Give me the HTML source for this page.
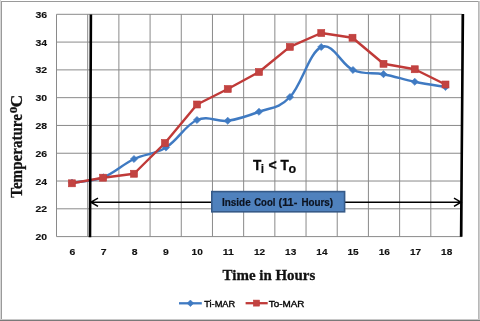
<!DOCTYPE html>
<html><head><meta charset="utf-8"><title>Chart</title>
<style>html,body{margin:0;padding:0;background:#fff;overflow:hidden}</style></head>
<body>
<svg width="480" height="321" viewBox="0 0 480 321" style="display:block">
<rect x="0" y="0" width="480" height="321" fill="#fff"/>
<rect x="0" y="0" width="1" height="321" fill="#d6d6d6"/>
<rect x="1" y="1" width="1" height="319" fill="#9a9a9a"/>
<rect x="1" y="1" width="478" height="1" fill="#9a9a9a"/>
<rect x="478" y="1" width="1" height="320" fill="#b8b8b8"/><rect x="479" y="1" width="1" height="320" fill="#cdcdcd"/>
<rect x="0" y="319" width="480" height="1" fill="#c8c8c8"/>
<rect x="0" y="320" width="480" height="1" fill="#7a7a7a"/>
<path d="M56.50 14.30 H462.00 M56.50 42.09 H462.00 M56.50 69.88 H462.00 M56.50 97.66 H462.00 M56.50 125.45 H462.00 M56.50 153.24 H462.00 M56.50 181.03 H462.00 M56.50 208.81 H462.00 M56.50 236.60 H462.00 M56.50 14.30 V236.60 M87.69 14.30 V236.60 M118.88 14.30 V236.60 M150.08 14.30 V236.60 M181.27 14.30 V236.60 M212.46 14.30 V236.60 M243.65 14.30 V236.60 M274.85 14.30 V236.60 M306.04 14.30 V236.60 M337.23 14.30 V236.60 M368.42 14.30 V236.60 M399.62 14.30 V236.60 M430.81 14.30 V236.60 M462.00 14.30 V236.60" stroke="#8a8a8a" stroke-width="1" fill="none"/>
<g font-family="'Liberation Sans', sans-serif" font-weight="bold" font-size="9.9px" fill="#111" stroke="#111" stroke-width="0.15">
<text x="35.5" y="17.90" textLength="11.6" lengthAdjust="spacingAndGlyphs">36</text>
<text x="35.5" y="45.69" textLength="11.6" lengthAdjust="spacingAndGlyphs">34</text>
<text x="35.5" y="73.47" textLength="11.6" lengthAdjust="spacingAndGlyphs">32</text>
<text x="35.5" y="101.26" textLength="11.6" lengthAdjust="spacingAndGlyphs">30</text>
<text x="35.5" y="129.05" textLength="11.6" lengthAdjust="spacingAndGlyphs">28</text>
<text x="35.5" y="156.84" textLength="11.6" lengthAdjust="spacingAndGlyphs">26</text>
<text x="35.5" y="184.62" textLength="11.6" lengthAdjust="spacingAndGlyphs">24</text>
<text x="35.5" y="212.41" textLength="11.6" lengthAdjust="spacingAndGlyphs">22</text>
<text x="35.5" y="240.20" textLength="11.6" lengthAdjust="spacingAndGlyphs">20</text>
<text x="69.50" y="254.7" textLength="5.8" lengthAdjust="spacingAndGlyphs">6</text>
<text x="100.69" y="254.7" textLength="5.8" lengthAdjust="spacingAndGlyphs">7</text>
<text x="131.88" y="254.7" textLength="5.8" lengthAdjust="spacingAndGlyphs">8</text>
<text x="163.07" y="254.7" textLength="5.8" lengthAdjust="spacingAndGlyphs">9</text>
<text x="191.57" y="254.7" textLength="11.2" lengthAdjust="spacingAndGlyphs">10</text>
<text x="222.76" y="254.7" textLength="11.2" lengthAdjust="spacingAndGlyphs">11</text>
<text x="253.95" y="254.7" textLength="11.2" lengthAdjust="spacingAndGlyphs">12</text>
<text x="285.14" y="254.7" textLength="11.2" lengthAdjust="spacingAndGlyphs">13</text>
<text x="316.33" y="254.7" textLength="11.2" lengthAdjust="spacingAndGlyphs">14</text>
<text x="347.53" y="254.7" textLength="11.2" lengthAdjust="spacingAndGlyphs">15</text>
<text x="378.72" y="254.7" textLength="11.2" lengthAdjust="spacingAndGlyphs">16</text>
<text x="409.91" y="254.7" textLength="11.2" lengthAdjust="spacingAndGlyphs">17</text>
<text x="441.10" y="254.7" textLength="11.2" lengthAdjust="spacingAndGlyphs">18</text>
</g>
<g transform="translate(22,197.8) rotate(-90)" font-family="'Liberation Serif', serif" font-weight="bold" fill="#111" stroke="#111" stroke-width="0.3"><text transform="scale(0.888,1)" font-size="17px">Temperature </text><text transform="translate(84.6,-4.6) scale(1.25,1)" font-size="10.4px">0</text><text transform="translate(90.4,0) scale(1.04,1)" font-size="17px">C</text></g>
<text x="222.6" y="280.2" font-family="'Liberation Serif', serif" font-weight="bold" font-size="15px" fill="#111" stroke="#111" stroke-width="0.3" textLength="92.7" lengthAdjust="spacingAndGlyphs">Time in Hours</text>
<path d="M90.5 202.2 H461 M98 198.2 L90.8 202.2 L98 206.4 M454 198.2 L461 202.2 L454 206.4" stroke="#000" stroke-width="1.5" fill="none"/>
<rect x="211.8" y="191.6" width="132.8" height="20.2" fill="#4f81bd" stroke="#365a88" stroke-width="1.6"/>
<g font-family="'Liberation Sans', sans-serif" font-weight="bold" font-size="10.3px" fill="#0c1320" stroke="#0c1320" stroke-width="0.2">
<text y="205.8"><tspan x="222.0" textLength="28.7" lengthAdjust="spacingAndGlyphs">Inside</tspan> <tspan x="254.2" textLength="21.2" lengthAdjust="spacingAndGlyphs">Cool</tspan> <tspan x="278.5" textLength="18.8" lengthAdjust="spacingAndGlyphs">(11-</tspan> <tspan x="301.4" textLength="31.6" lengthAdjust="spacingAndGlyphs">Hours)</tspan></text>
</g>
<g font-family="'Liberation Sans', sans-serif" font-weight="bold" fill="#0a0a0a" stroke="#0a0a0a" stroke-width="0.35">
<text y="169.5"><tspan x="252.9" font-size="14.6px" textLength="8.3" lengthAdjust="spacingAndGlyphs">T</tspan><tspan x="260.7" y="173.0" font-size="12px" stroke-width="0.15">i</tspan> <tspan x="268.4" y="170.3" font-size="14.6px" textLength="8.2" lengthAdjust="spacingAndGlyphs">&lt;</tspan> <tspan x="280.4" y="169.5" font-size="14.6px" textLength="8.3" lengthAdjust="spacingAndGlyphs">T</tspan><tspan x="288.5" y="173.0" font-size="12px" stroke-width="0.2" textLength="7.7" lengthAdjust="spacingAndGlyphs">o</tspan></text>
</g>
<path d="M72.00 182.70 C77.82 181.71 91.63 181.82 103.20 177.40 C114.77 172.98 122.28 164.58 134.00 159.00 C145.72 153.42 154.24 154.78 166.00 147.50 C177.76 140.22 185.47 124.99 197.00 120.00 C208.53 115.01 216.18 122.29 227.75 120.75 C239.32 119.21 247.38 116.18 259.00 111.75 C270.62 107.32 278.38 109.09 290.00 97.00 C301.62 84.91 309.49 52.04 321.25 47.00 C333.01 41.96 341.38 64.92 353.00 70.00 C364.62 75.08 371.97 72.01 383.50 74.20 C395.03 76.39 403.18 79.36 414.75 81.75 C426.32 84.14 439.76 86.02 445.50 87.00" stroke="#3f7ac2" stroke-width="2.45" fill="none" stroke-linecap="round" stroke-linejoin="round"/>
<path d="M72.00 179.10 l3.6 3.6 l-3.6 3.6 l-3.6 -3.6 z" fill="#3f7ac2" stroke="#3f7ac2" stroke-width="0.6"/>
<path d="M103.20 173.80 l3.6 3.6 l-3.6 3.6 l-3.6 -3.6 z" fill="#3f7ac2" stroke="#3f7ac2" stroke-width="0.6"/>
<path d="M134.00 155.40 l3.6 3.6 l-3.6 3.6 l-3.6 -3.6 z" fill="#3f7ac2" stroke="#3f7ac2" stroke-width="0.6"/>
<path d="M166.00 143.90 l3.6 3.6 l-3.6 3.6 l-3.6 -3.6 z" fill="#3f7ac2" stroke="#3f7ac2" stroke-width="0.6"/>
<path d="M197.00 116.40 l3.6 3.6 l-3.6 3.6 l-3.6 -3.6 z" fill="#3f7ac2" stroke="#3f7ac2" stroke-width="0.6"/>
<path d="M227.75 117.15 l3.6 3.6 l-3.6 3.6 l-3.6 -3.6 z" fill="#3f7ac2" stroke="#3f7ac2" stroke-width="0.6"/>
<path d="M259.00 108.15 l3.6 3.6 l-3.6 3.6 l-3.6 -3.6 z" fill="#3f7ac2" stroke="#3f7ac2" stroke-width="0.6"/>
<path d="M290.00 93.40 l3.6 3.6 l-3.6 3.6 l-3.6 -3.6 z" fill="#3f7ac2" stroke="#3f7ac2" stroke-width="0.6"/>
<path d="M321.25 43.40 l3.6 3.6 l-3.6 3.6 l-3.6 -3.6 z" fill="#3f7ac2" stroke="#3f7ac2" stroke-width="0.6"/>
<path d="M353.00 66.40 l3.6 3.6 l-3.6 3.6 l-3.6 -3.6 z" fill="#3f7ac2" stroke="#3f7ac2" stroke-width="0.6"/>
<path d="M383.50 70.60 l3.6 3.6 l-3.6 3.6 l-3.6 -3.6 z" fill="#3f7ac2" stroke="#3f7ac2" stroke-width="0.6"/>
<path d="M414.75 78.15 l3.6 3.6 l-3.6 3.6 l-3.6 -3.6 z" fill="#3f7ac2" stroke="#3f7ac2" stroke-width="0.6"/>
<path d="M445.50 83.40 l3.6 3.6 l-3.6 3.6 l-3.6 -3.6 z" fill="#3f7ac2" stroke="#3f7ac2" stroke-width="0.6"/>
<path d="M71.90 183.30 L103.10 177.70 L134.00 173.75 L165.00 143.00 L197.00 104.50 L227.75 89.00 L259.00 72.00 L289.80 46.90 L321.25 33.00 L352.50 37.75 L383.50 63.80 L414.75 69.25 L445.50 84.50" stroke="#c03a38" stroke-width="2.45" fill="none" stroke-linecap="round" stroke-linejoin="round"/>
<rect x="68.40" y="179.80" width="7" height="7" fill="#c24341" stroke="#c03a38" stroke-width="0.6"/>
<rect x="99.60" y="174.20" width="7" height="7" fill="#c24341" stroke="#c03a38" stroke-width="0.6"/>
<rect x="130.50" y="170.25" width="7" height="7" fill="#c24341" stroke="#c03a38" stroke-width="0.6"/>
<rect x="161.50" y="139.50" width="7" height="7" fill="#c24341" stroke="#c03a38" stroke-width="0.6"/>
<rect x="193.50" y="101.00" width="7" height="7" fill="#c24341" stroke="#c03a38" stroke-width="0.6"/>
<rect x="224.25" y="85.50" width="7" height="7" fill="#c24341" stroke="#c03a38" stroke-width="0.6"/>
<rect x="255.50" y="68.50" width="7" height="7" fill="#c24341" stroke="#c03a38" stroke-width="0.6"/>
<rect x="286.30" y="43.40" width="7" height="7" fill="#c24341" stroke="#c03a38" stroke-width="0.6"/>
<rect x="317.75" y="29.50" width="7" height="7" fill="#c24341" stroke="#c03a38" stroke-width="0.6"/>
<rect x="349.00" y="34.25" width="7" height="7" fill="#c24341" stroke="#c03a38" stroke-width="0.6"/>
<rect x="380.00" y="60.30" width="7" height="7" fill="#c24341" stroke="#c03a38" stroke-width="0.6"/>
<rect x="411.25" y="65.75" width="7" height="7" fill="#c24341" stroke="#c03a38" stroke-width="0.6"/>
<rect x="442.00" y="81.00" width="7" height="7" fill="#c24341" stroke="#c03a38" stroke-width="0.6"/>
<path d="M90.9 14.6 L90.0 237.2 M462.9 14.0 L461.1 236.8" stroke="#000" stroke-width="2.6" fill="none"/>
<path d="M179.0 303.3 H201.8" stroke="#3f7ac2" stroke-width="2.3"/>
<path d="M190.4 300 l3.3 3.3 l-3.3 3.3 l-3.3 -3.3 z" fill="#3f7ac2" stroke="#3f7ac2" stroke-width="0.6"/>
<path d="M245.6 303.2 H267.7" stroke="#c03a38" stroke-width="2.3"/>
<rect x="253.5" y="300.1" width="6" height="6" fill="#c24341" stroke="#c03a38" stroke-width="0.6"/>
<g font-family="'Liberation Sans', sans-serif" font-size="9.3px" fill="#000" stroke="#000" stroke-width="0.35">
<text x="204.2" y="307.0" textLength="31" lengthAdjust="spacingAndGlyphs">Ti-MAR</text>
<text x="268.7" y="307.0" textLength="35.7" lengthAdjust="spacingAndGlyphs">To-MAR</text>
</g>
</svg>
</body></html>
